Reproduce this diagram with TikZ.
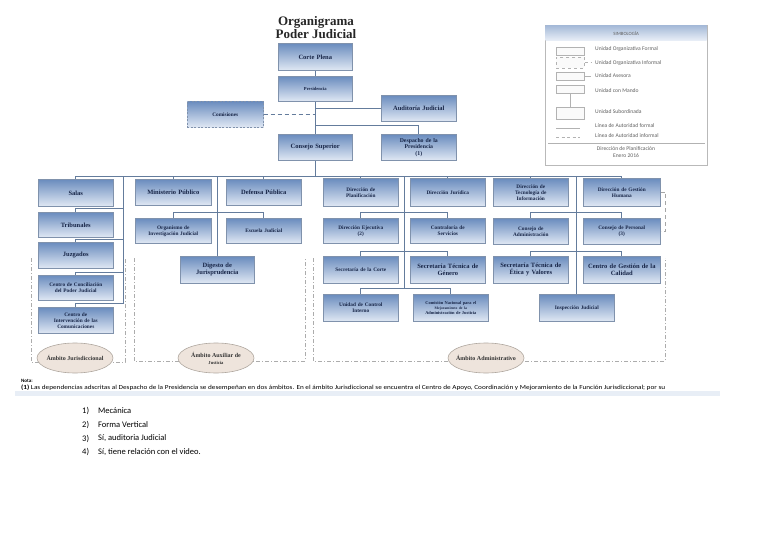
\documentclass[tikz,border=0pt]{standalone}
\usepackage{fontspec}
\setmainfont{Liberation Serif}
\newfontfamily\calfont{Carlito}
\usetikzlibrary{shadows,shapes.geometric}
\definecolor{boxtop}{RGB}{106,140,190}
\definecolor{boxbot}{RGB}{224,232,244}
\definecolor{boxborder}{RGB}{128,146,172}
\definecolor{boxtext}{RGB}{24,38,72}
\definecolor{linecol}{RGB}{100,124,156}
\definecolor{ellfill}{RGB}{238,228,220}
\definecolor{ellborder}{RGB}{176,168,160}
\definecolor{legtext}{RGB}{96,96,96}
\definecolor{notebar}{RGB}{232,238,246}
\begin{document}
\begin{tikzpicture}[x=1pt,y=-1pt,
 ubox/.style={draw=boxborder, line width=0.6pt, top color=boxtop, bottom color=boxbot,
   minimum width=75pt, minimum height=26pt, text width=71pt, align=center, inner sep=1pt,
   font=\bfseries\fontsize{6.5}{7.2}\selectfont, text=boxtext, anchor=north west,
   drop shadow={shadow xshift=0.8pt, shadow yshift=-0.8pt, opacity=0.3, fill=gray}},
 small/.style={font=\bfseries\fontsize{5.3}{6}\selectfont},
 conn/.style={draw=linecol, line width=0.9pt},
 informal/.style={draw=linecol, line width=0.8pt, dash pattern=on 4pt off 3pt},
 region/.style={draw=gray!65, line width=0.6pt, dash pattern=on 4pt off 2pt on 1pt off 2pt},
 ambito/.style={ellipse, draw=ellborder, line width=0.6pt, fill=ellfill, minimum width=76pt,
   minimum height=30pt, font=\bfseries\fontsize{6}{7}\selectfont, text=black!80, align=center,
   inner xsep=-9pt, inner ysep=0pt},
 legbox/.style={draw=gray!60, line width=0.7pt, fill=gray!4, minimum width=28pt, inner sep=0pt, anchor=north west},
 legtxt/.style={anchor=west, font=\calfont\fontsize{5.6}{6}\selectfont, text=legtext, inner sep=0pt},
 listtxt/.style={anchor=west, font=\calfont\fontsize{8.5}{10}\selectfont, inner sep=0pt}
]
\useasboundingbox[fill=white] (0,0) rectangle (768,543);

% title
\node[font=\bfseries\fontsize{13}{13}\selectfont, text=black!85] (t1) at (316,22) {Organigrama};
\node[font=\bfseries\fontsize{13}{13}\selectfont, text=black!85] (t2) at (316,34.5) {Poder Judicial};

% regions (dash-dot)
\draw[region] (31,258) -- (31,362) -- (125,362) -- (125,258);
\draw[region] (134,258) -- (134,361) -- (305,361) -- (305,258);
\draw[region] (313,258) -- (313,361) -- (665,361) -- (665,258);

% top boxes
\node[ubox, minimum width=74pt, minimum height=27pt] (corte) at (278,43) {Corte Plena};
\node[ubox, minimum width=74pt, minimum height=25pt, font=\bfseries\fontsize{4.6}{5.5}\selectfont] (pres) at (278,76) {Presidencia};
\node[ubox, minimum width=76pt, dash pattern=on 2pt off 1.5pt, small] (comis) at (187,101) {Comisiones};
\node[ubox] (audit) at (381,95) {Auditoría Judicial};
\node[ubox, font=\bfseries\fontsize{5.8}{6.6}\selectfont] (desp) at (381,134) {Despacho de la\\ Presidencia\\ (1)};
\node[ubox, minimum width=74pt] (consejo) at (278,134) {Consejo Superior};

% left column
\node[ubox, minimum height=27pt] (salas) at (38,179) {Salas};
\node[ubox, minimum height=25pt] (trib) at (38,212) {Tribunales};
\node[ubox] (juzg) at (38,242) {Juzgados};
\node[ubox, minimum height=25pt, small] (concil) at (38,275) {Centro de Conciliación\\ del Poder Judicial};
\node[ubox, small] (interv) at (38,307) {Centro de\\ Intervención de las\\ Comunicaciones};

% middle column
\node[ubox, minimum width=76pt] (minist) at (135,179) {Ministerio Público};
\node[ubox] (defensa) at (226,179) {Defensa Pública};
\node[ubox, minimum width=76pt, minimum height=25pt, small] (oij) at (135,218) {Organismo de\\ Investigación Judicial};
\node[ubox, minimum height=25pt, small] (escuela) at (226,218) {Escuela Judicial};
\node[ubox, minimum width=74pt, minimum height=27pt] (digesto) at (180,256) {Digesto de\\ Jurisprudencia};

% planificacion column
\node[ubox, minimum height=28pt, small] (planif) at (323,178) {Dirección de\\ Planificación};
\node[ubox, minimum height=28pt, small] (juridica) at (410,178) {Dirección Jurídica};
\node[ubox, minimum height=25pt, small] (ejec) at (323,218) {Dirección Ejecutiva\\ (2)};
\node[ubox, minimum height=25pt, small] (contral) at (410,218) {Contraloría de\\ Servicios};
\node[ubox, minimum height=27pt, small] (secorte) at (323,256) {Secretaría de la Corte};
\node[ubox, minimum height=27pt] (genero) at (410,256) {Secretaría Técnica de\\ Género};
\node[ubox, minimum height=27pt, small] (controlint) at (323,294) {Unidad de Control\\ Interno};
\node[ubox, minimum height=27pt, font=\bfseries\fontsize{4.4}{5.1}\selectfont] (comision) at (413,294) {Comisión Nacional para el\\ {\fontsize{3.7}{4.4}\selectfont Mejoramiento de la}\\ Administración de Justicia};

% right column
\node[ubox, minimum height=28pt, small] (tecno) at (493,178) {Dirección de\\ Tecnología de\\ Información};
\node[ubox, minimum width=77pt, minimum height=28pt, small] (gestion) at (583,178) {Dirección de Gestión\\ Humana};
\node[ubox, small] (consadm) at (493,218) {Consejo de\\ Administración};
\node[ubox, minimum width=77pt, small] (conspers) at (583,218) {Consejo de Personal\\ (3)};
\node[ubox, minimum height=27pt] (etica) at (493,256) {Secretaría Técnica de\\ Ética y Valores};
\node[ubox, minimum width=77pt, minimum height=27pt] (calidad) at (583,256) {Centro de Gestión de la\\ Calidad};
\node[ubox, minimum height=27pt, small] (inspec) at (539,294) {Inspección Judicial};

% top connectors
\draw[conn] (corte.south) -- (pres.north);
\draw[conn] (pres.south) -- (consejo.north);
\draw[conn] (audit.west) -- (audit.west -| pres.south);
\draw[conn] (desp.north) -- ++(0,-9) -| (pres.south);
\draw[informal] (comis.east) -- (comis.east -| pres.south);

% main bus
\coordinate (bus) at (0,176);
\draw[conn] (consejo.south) -- (consejo.south |- bus);
\draw[conn] (salas.north) -- (salas.north |- bus) -- (gestion.north |- bus) -- (gestion.north);

% left column connectors
\coordinate (lsp) at (123,176);
\draw[conn] (lsp) -- (123,303) -| (interv.north);
\draw[conn] (trib.north) -- ++(0,-4) -| (lsp);
\draw[conn] (juzg.north) -- ++(0,-3) -| (lsp);
\draw[conn] (concil.north) -- ++(0,-3) -| (lsp);

% middle column connectors
\draw[conn] (minist.north) -- (minist.north |- bus);
\draw[conn] (defensa.north) -- (defensa.north |- bus);
\draw[conn] (digesto.north) -- (digesto.north |- bus);
\draw[conn] (oij.north) -- ++(0,-6) -| (escuela.north);

% planificacion connectors
\coordinate (psp) at (404,176);
\draw[conn] (planif.north) -- (planif.north |- bus);
\draw[conn] (juridica.north) -- (juridica.north |- bus);
\draw[conn] (psp) -- (404,288);
\draw[conn] (ejec.north) -- ++(0,-6) -| (contral.north);
\draw[conn] (secorte.north) -- ++(0,-5) -| (genero.north);
\draw[conn] (controlint.north) -- ++(0,-6) -| (comision.north);

% right connectors
\draw[conn] (tecno.north) -- (tecno.north |- bus);
\draw[conn] (inspec.north) -- (inspec.north |- bus);
\draw[conn] (consadm.north) -- ++(0,-6) -| (conspers.north);
\draw[conn] (etica.north) -- ++(0,-5) -| (calidad.north);
\draw[informal, line width=0.6pt, draw=gray!70] (gestion.east) -- ++(5,0) |- (conspers.east);

% ambitos
\node[ambito] (amb1) at (75,358) {Ámbito Jurisdiccional};
\node[ambito] (amb2) at (216,358) {Ámbito Auxiliar de\\ {\fontsize{4.6}{5.5}\selectfont Justicia}};
\node[ambito] (amb3) at (486,358) {Ámbito Administrativo};

% legend
\node[draw=gray!55, line width=0.7pt, fill=white, minimum width=162pt, minimum height=140pt, anchor=north west, inner sep=0pt] (leg) at (545,25) {};
\node[top color=boxtop!60, bottom color=boxbot!70, minimum width=161pt, minimum height=15pt, anchor=north west, inner sep=0pt,
  font=\calfont\fontsize{4.8}{5}\selectfont, text=legtext] (leghead) at (545.4,25.4) {SIMBOLOGÍA};
\node[legbox, line width=1.1pt, minimum height=8pt] (lg1) at (556,47) {};
\node[legtxt] (lt1) at (595,49) {Unidad Organizativa Formal};
\node[legbox, dashed, minimum height=11pt] (lg2) at (556,57) {};
\draw[dashed, draw=gray!60, line width=0.7pt] (lg2.east) -- ++(7,0);
\node[legtxt] (lt2) at (595,63) {Unidad Organizativa Informal};
\node[legbox, minimum height=8pt] (lg3) at (556,72) {};
\draw[draw=gray!60, line width=0.7pt] (lg3.east) -- ++(6,0);
\node[legtxt] (lt3) at (595,76) {Unidad Asesora};
\node[legbox, minimum height=8pt] (lg4) at (556,85) {};
\node[legbox, minimum height=12pt] (lg5) at (556,107) {};
\draw[draw=gray!60, line width=0.7pt] (lg4.south) -- (lg5.north);
\node[legtxt] (lt4) at (595,91) {Unidad con Mando};
\node[legtxt] (lt5) at (595,112) {Unidad Subordinada};
\coordinate (lf1) at (556,128); \coordinate (lf2) at (580,128);
\draw[draw=gray!60, line width=0.7pt] (lf1) -- (lf2);
\node[legtxt] (lt6) at (595,126) {Línea de Autoridad formal};
\coordinate (li1) at (556,137); \coordinate (li2) at (580,137);
\draw[draw=gray!60, line width=0.7pt, dash pattern=on 3pt off 2.5pt] (li1) -- (li2);
\node[legtxt] (lt7) at (595,136) {Línea de Autoridad informal};
\coordinate (ls1) at (548,143); \coordinate (ls2) at (705,143);
\draw[draw=gray!60, line width=0.8pt] (ls1) -- (ls2);
\node[legtxt, anchor=center] (lt8) at (626,148.5) {Dirección de Planificación};
\node[legtxt, anchor=center] (lt9) at (626,155.5) {Enero 2016};

% note
\node[fill=notebar, minimum width=705pt, minimum height=5pt, anchor=north west, inner sep=0pt] (nbar) at (15,391) {};
\node[anchor=west, inner sep=0pt, font=\calfont\bfseries\fontsize{5}{6}\selectfont] (nota) at (21,381) {Nota:};
\node[anchor=west, inner sep=0pt, font=\calfont\fontsize{5.5}{6}\selectfont] (ntext) at (21,387.5)
 {\resizebox{644pt}{4.6pt}{\textbf{(1)} Las dependencias adscritas al Despacho de la Presidencia se desempeñan en dos ámbitos. En el ámbito Jurisdiccional se encuentra el Centro de Apoyo, Coordinación y Mejoramiento de la Función Jurisdiccional; por su}};

% answers
\node[listtxt] (n1) at (82,411) {1)}; \node[listtxt] (a1) at (98,411) {Mecánica};
\node[listtxt] (n2) at (82,425) {2)}; \node[listtxt] (a2) at (98,425) {Forma Vertical};
\node[listtxt] (n3) at (82,438.5) {3)}; \node[listtxt] (a3) at (98,438.5) {Sí, auditoria Judicial};
\node[listtxt] (n4) at (82,452) {4)}; \node[listtxt] (a4) at (98,452) {Sí, tiene relación con el video.};
\end{tikzpicture}
\end{document}
